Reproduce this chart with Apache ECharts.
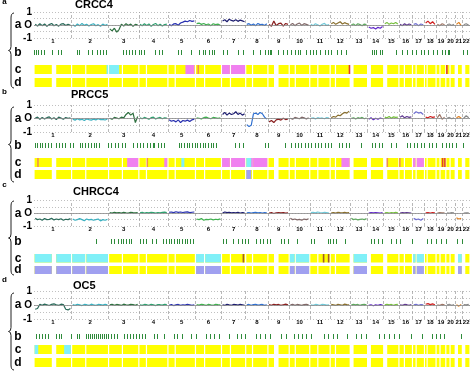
<!DOCTYPE html>
<html><head><meta charset="utf-8">
<script src="https://cdn.jsdelivr.net/npm/echarts@6/dist/echarts.min.js"></script>
<style>html,body{margin:0;padding:0;background:#fff}#c{width:474px;height:372px}</style>
</head><body><div id="c"></div>
<script>
// ---------- genome ----------
const chromNames = ['1','2','3','4','5','6','7','8','9','10','11','12','13','14','15','16','17','18','19','20','21','22'];
const chromLen  = [247,243,199,191,181,171,159,146,140,135,134,132,114,106,100,89,79,76,64,62,47,50];
const gapStart  = [121,93,91,50,48,60,59,45,44,40,53,35,0,0,0,36,24,17,26,28,0,0];
const gapEnd    = [142,93,91,50,48,60,59,45,66,40,53,35,18,18,19,36,24,17,26,28,14,15];
const chromColors = ['#2A6A5A','#3AB0C0','#2E7040','#30A070','#2830B0','#40B050','#1E1E70','#3070D0','#8A2020','#806868','#70C8D8','#8A7030','#60A860','#6028C8','#78C040','#603A90','#7070D0','#D02020','#A07868','#909090','#E08020','#888888'];
const yTickLabels = {'1':'1','0':'O','-1':'-1'};

// ---------- samples ----------
const sampleNames = ['CRCC4','PRCC5','CHRCC4','OC5'];

// log ratio per chromosome (row a)
const ratioCRCC4 = [
 [.05,-.08,.1,-.05,.08,-.1,.03,.12,-.06,.04,-.09,.07,.1,-.04,.06,-.02],
 [.02,-.1,.08,-.05,.12,-.03,.06,-.08,.04,.1,-.06,.03,-.1,.07,-.04,.05],
 [-.3,-.45,-.25,-.55,-.35,.05,-.08,.1,-.04,.07,-.1,.05,.02],
 [.05,-.06,.1,-.03,.08,-.1,.04,.12,-.05,.06,-.08,.03,.07],
 [.03,-.05,.08,.1,-.02,.15,.22,.3,.25,.35,.28,.32],
 [.1,.15,.05,.12,.02,.08,-.05,.1,.03,.07,-.02],
 [.3,.4,.25,.45,.35,.3,.4,.28,.38,.32,.25],
 [.05,.1,-.02,.08,-.05,.12,.03,.06,-.04,.09],
 [.05,-.1,.3,-.05,.1,.15,-.08,.12,.05],
 [.02,.12,-.05,.08,.15,-.03,.1,.05,-.02],
 [.05,-.05,.1,.02,-.08,.06,.12,-.03,.04],
 [.1,.2,.05,.15,.25,.08,.18,.1,.05],
 [.02,.08,-.05,.1,.03,-.06,.07,.04],
 [-.15,-.25,-.2,-.3,-.18,-.25,-.12],
 [.1,.2,.05,.15,.1,.2,.08],
 [.05,-.05,.1,-.02,.08,.02],
 [.05,.1,-.05,.08,.02],
 [.15,.3,.1,.25,.05],
 [.05,-.05,.1,.02],
 [.02,.08,-.03,.05],
 [.05,.2,-.05],
 [.02,.1,-.02]
];
const ratioPRCC5 = [
 [.02,.1,-.05,.08,-.03,.06,.12,-.04,.05,-.08,.1,.03,-.05,.07,.02,.05],
 [-.05,-.12,-.02,-.1,-.06,-.15,-.03,-.08,-.12,-.05,-.1,-.02,-.09,-.06,-.11,-.04],
 [.02,-.05,.08,.03,-.02,.1,.05,.3,.45,.25,.4,-.3,.15],
 [.05,-.02,.08,.02,-.05,.06,.1,-.03,.04,.08,-.02,.05,.03],
 [-.1,-.2,-.15,-.25,-.1,-.3,-.15,-.2,-.12,-.22,-.1,-.05],
 [.05,.02,-.03,.06,.1,.03,-.02,.08,.05,.02,.04],
 [.3,.45,.25,.4,.3,.35,.5,.3,.4,.25,.35],
 [-.45,-.6,-.5,.35,.4,.3,.45,.35,.1,-.05],
 [-.25,-.15,-.3,-.1,-.05,-.12,.02,-.08,-.03],
 [.02,-.05,.08,.03,-.02,.1,.05,-.04,.06],
 [.02,.05,-.03,.06,.01,.04,-.02,.07,.03],
 [.05,.15,.1,.25,.2,.35,.45,.4,.55],
 [.02,.05,-.03,.06,.01,.08,-.02,.04],
 [-.05,.05,-.1,.02,-.06,.04,-.02],
 [.1,.05,.15,.02,.12,.08,.1],
 [.1,.2,.05,.15,.08,.12],
 [.35,.5,.4,.45,.3],
 [.1,.05,.15,.08,.12],
 [.05,.3,-.05,.1],
 [.02,.08,-.02,.05],
 [.05,.15,.02],
 [.02,.2,.05]
];
const ratioCHRCC4 = [
 [-.4,-.5,-.45,-.55,-.42,-.5,-.48,-.4,-.52,-.45,-.5,-.43,-.55,-.47,-.5,-.42],
 [-.45,-.55,-.5,-.42,-.5,-.58,-.45,-.52,-.48,-.55,-.5,-.45,-.6,-.5,-.55,-.48],
 [.05,.02,.08,.03,.06,.01,.07,.04,.02,.08,.05,.03,.06],
 [.04,.07,.02,.06,.03,.08,.05,.02,.06,.04,.07,.09,.05],
 [.08,.1,.05,.12,.07,.1,.06,.09,.11,.05,.08,.1],
 [-.45,-.5,-.42,-.55,-.48,-.5,-.45,-.52,-.47,-.5,-.44],
 [.02,.1,.05,.08,.03,.06,.04,.07,.02,.05,.03],
 [.03,.06,.02,.05,.08,.04,.06,.02,.05,.03],
 [.02,.05,-.02,.04,.06,.03,.05,.01,.04],
 [-.4,-.5,-.45,-.52,-.48,-.55,-.45,-.5,-.43],
 [.05,.08,.03,.1,.06,.04,.07,.05,.02],
 [.03,.06,.02,.08,.05,.04,.07,.03,.05],
 [-.4,-.5,-.45,-.52,-.48,-.45,-.5,-.42],
 [.02,.05,.03,.06,.04,.02,.05],
 [.03,.06,.02,.05,.04,.07,.03],
 [.02,.05,.03,.06,.04,.02],
 [-.4,-.5,-.45,-.55,-.42],
 [.03,.05,.02,.06,.04],
 [.02,.05,.03,.04],
 [.03,.02,.05,.04],
 [-.35,-.45,-.4],
 [.02,.04,.03]
];
const ratioOC5 = [
 [-.3,-.25,.05,-.02,.06,.02,-.04,.05,.08,.02,-.03,.06,.03,-.3,-.35,-.25],
 [.03,-.02,.05,.01,-.04,.04,.02,-.03,.06,.01,-.02,.04,.03,-.01,.05,.02],
 [.02,.05,-.02,.04,.01,-.03,.06,.02,-.01,.04,.03,-.02,.05],
 [.01,-.03,.04,.02,-.02,.05,.01,-.04,.03,.02,-.01,.04,.02],
 [-.02,.03,-.04,.01,.04,-.03,.02,-.01,.05,.01,-.03,.02],
 [.03,-.01,.04,.02,-.03,.05,.01,-.02,.04,.02,.01],
 [.02,-.03,.05,.01,-.02,.04,.03,-.01,.05,.02,-.02],
 [.01,.04,-.02,.03,.05,-.01,.02,.04,-.03,.02],
 [.03,-.02,.05,.01,.04,-.03,.02,.06,.01],
 [.02,.05,-.02,.04,.01,-.03,.03,.05,.01],
 [.01,-.03,.04,.02,-.02,.05,.03,-.01,.02],
 [.04,.01,-.03,.05,.02,-.02,.06,.03,.01],
 [.02,.05,.01,.04,-.02,.03,.05,.02],
 [-.03,.02,-.05,.01,-.02,.03,-.01],
 [.02,.05,.01,.04,-.02,.03,.05],
 [.01,-.03,.04,.02,-.02,.03],
 [.02,.05,-.02,.03,.01],
 [.05,.1,.03,.08,.02],
 [.02,-.02,.04,.01],
 [.01,.04,-.02,.03],
 [.02,-.08,.04],
 [.03,.01,.05]
];

// row b: marked positions (cumulative Mb)
const marksCRCC4 = [3,11,28,48,66,117,160,178,285,296,358,380,417,435,454,476,582,604,626,647,665,687,705,724,797,819,841,944,966,1032,1087,1108,1126,1153,1170,1186,1240,1266,1339,1372,1442,1482,1515,1537,1548,1559,1605,1635,1662,1691,1712,1734,1750,1785,1811,1833,1855,1877,1910,1932,1954,1991,2020,2053,2218,2233,2250,2272,2290,2382,2415,2448,2481,2509,2540,2562,2590,2619,2646,2678,2700,2722,2729,2821,2843];
const marksPRCC5 = [7,22,38,55,72,90,110,147,165,186,204,235,257,301,318,336,354,373,391,410,428,487,509,531,553,575,597,652,674,696,718,740,762,784,790,812,834,856,950,968,986,1003,1021,1039,1056,1074,1091,1108,1126,1144,1161,1179,1197,1324,1346,1372,1517,1535,1647,1691,1712,1734,1756,1778,1800,1822,1844,1866,1888,1910,1932,1954,2004,2027,2048,2070,2152,2221,2244,2266,2287,2343,2378,2452,2474,2496,2518,2540,2562,2595,2617,2639,2683,2705,2727,2748,2771,2821];
const marksCHRCC4 = [406,505,527,549,571,586,604,621,639,696,718,736,775,802,850,867,884,902,920,937,955,973,990,1008,1025,1043,1245,1263,1306,1339,1365,1388,1409,1460,1482,1508,1530,1548,1622,1644,1666,1728,1820,1842,1930,1947,1965,1982,2046,2215,2233,2259,2287,2347,2376,2404,2485,2580,2606,2639,2672,2705,2781,2814];
const marksOC5 = [13,33,53,72,92,145,165,178,244,283,296,342,356,369,382,395,408,421,435,448,461,474,487,507,527,547,593,613,632,652,672,692,711,731,790,810,856,922,942,975,1034,1067,1133,1159,1186,1218,1284,1337,1363,1389,1462,1488,1521,1554,1620,1653,1706,1732,1758,1785,1818,1903,1929,1962,1989,2055,2114,2147,2180,2266,2299,2331,2364,2397,2476,2549,2615,2641,2667,2694,2806];

// rows c and d: altered segments [startMb, endMb, state]; everything else is normal (yellow)
const rowC_CRCC4 = [[478,560,'loss'],[995,1054,'gain'],[1077,1082,'ampO'],[1232,1391,'gain'],[2072,2076,'ampR'],[2711,2715,'ampR']];
const rowD_CRCC4 = [];
const rowC_PRCC5 = [[24,28,'ampO'],[612,685,'gain'],[742,746,'ampO'],[856,876,'gain'],[968,988,'loss'],[1232,1391,'gain'],[1391,1434,'loss'],[1434,1537,'gain'],[2020,2078,'gain'],[2318,2322,'ampO'],[2402,2406,'ampO'],[2487,2566,'gain'],[2683,2687,'ampR'],[2698,2702,'ampR']];
const rowD_PRCC5 = [[1391,1427,'loh']];
const rowC_CHRCC4 = [[0,490,'loss'],[1061,1232,'loss'],[1374,1378,'ampD'],[1677,1812,'loss'],[1901,1905,'ampD'],[1934,1938,'ampD'],[2078,2192,'loss'],[2487,2566,'loss'],[2768,2815,'loss']];
const rowD_CHRCC4 = [[0,490,'loh'],[1061,1232,'loh'],[1677,1812,'loh'],[2078,2192,'loh'],[2487,2566,'loh'],[2768,2815,'loh']];
const rowC_OC5 = [[0,28,'loss'],[198,242,'loss']];
const rowD_OC5 = [];

// ---------- styling / layout ----------
const stateKeys = ['base','loss','gain','loh','ampR','ampO','ampD'];
const stateColors = ['#FFFF00','#80F0F8','#F080F0','#A0A0F0','#E04030','#F09050','#A05A28'];
const markColor = '#2E8B3A';
const FONT = 'Liberation Sans, Arial, sans-serif';
const panels = [
 {name:sampleNames[0], ratio:ratioCRCC4, marks:marksCRCC4, c:rowC_CRCC4, d:rowD_CRCC4, letter:'a',
  A:[12,26], B:[50,5], C:[65,9], D:[78,9], titleY:5, titleX:75, letterY:2, brace:[13,88]},
 {name:sampleNames[1], ratio:ratioPRCC5, marks:marksPRCC5, c:rowC_PRCC5, d:rowD_PRCC5, letter:'b',
  A:[105,27], B:[143,5], C:[158,9], D:[170,9], titleY:95, titleX:71, letterY:92, brace:[107,182]},
 {name:sampleNames[2], ratio:ratioCHRCC4, marks:marksCHRCC4, c:rowC_CHRCC4, d:rowD_CHRCC4, letter:'c',
  A:[200.5,25.5], B:[239,5], C:[254,8.5], D:[266,8], titleY:192, titleX:73, letterY:185, brace:[201,275]},
 {name:sampleNames[3], ratio:ratioOC5, marks:marksOC5, c:rowC_OC5, d:rowD_OC5, letter:'d',
  A:[291,28], B:[334,5], C:[345,9], D:[358,9], titleY:286, titleX:73, letterY:280, brace:[293,370]}
];

// ---------- derived genome coordinates ----------
const chromStart = [];
chromLen.reduce((acc, l, i) => { chromStart[i] = acc; return acc + l; }, 0);
const genomeLen = chromLen.reduce((a, b) => a + b, 0);
const chromCenters = chromLen.map((l, i) => chromStart[i] + l / 2);
const boundaries = chromStart.slice(1);
const arms = [];
chromLen.forEach((len, i) => {
  const st = chromStart[i];
  if (gapStart[i] > 0) arms.push([st, st + gapStart[i]]);
  arms.push([st + gapEnd[i], st + len]);
});

function buildBar(segs) {
  const items = arms.map(a => [a[0], a[1], 0, a[0], a[1]]);
  segs.forEach(sg => {
    arms.forEach(a => {
      const s = Math.max(sg[0], a[0]), e = Math.min(sg[1], a[1]);
      if (e > s) items.push([s, e, stateKeys.indexOf(sg[2]), a[0], a[1]]);
    });
  });
  return items;
}
function renderBar(params, api) {
  const s = api.value(0), e = api.value(1), st = api.value(2), as = api.value(3), ae = api.value(4);
  const top = api.coord([s, 1])[1], bot = api.coord([s, 0])[1];
  let x0 = api.coord([s, 0])[0], x1 = api.coord([e, 0])[0];
  const l = api.coord([as, 0])[0] + 0.6, r = api.coord([ae, 0])[0] - 0.6;
  x0 = Math.max(x0, l); x1 = Math.min(x1, r);
  if (x1 - x0 < 1.5) { const m = (x0 + x1) / 2; x0 = m - 0.8; x1 = m + 0.8; }
  return {type:'rect', shape:{x:x0, y:top, width:x1 - x0, height:bot - top}, style:{fill:stateColors[st]}};
}
function renderMark(params, api) {
  const p0 = api.coord([api.value(0), 1]), p1 = api.coord([api.value(0), 0]);
  const x = Math.round(p0[0]) + 0.5;
  return {type:'line', shape:{x1:x, y1:p0[1], x2:x, y2:p1[1]}, style:{stroke:markColor, lineWidth:1}};
}

const grids = [], xAxes = [], yAxes = [], series = [], graphics = [];
const LEFT = 34, WIDTH = 436;
panels.forEach((p, pi) => {
  const rows = [p.A, p.B, p.C, p.D];
  rows.forEach((r, ri) => {
    const gi = grids.length;
    grids.push({left:LEFT, width:WIDTH, top:r[0], height:r[1], containLabel:false, outerBoundsMode:'none'});
    const isA = ri === 0;
    xAxes.push({
      type:'value', gridIndex:gi, min:0, max:genomeLen, show:isA,
      axisLine:{show:false}, axisTick:{show:false}, splitLine:{show:false},
      axisLabel:{show:isA, customValues:chromCenters, margin:3, fontSize:6, fontWeight:'bold', color:'#000', fontFamily:FONT,
        verticalAlign:'middle',
        formatter: v => { const k = chromCenters.findIndex(c => Math.abs(c - v) < 0.01); return k >= 0 ? chromNames[k] : ''; }}
    });
    if (isA) {
      yAxes.push({
        type:'value', gridIndex:gi, min:-1, max:1, interval:0.5,
        axisLine:{show:false}, axisTick:{show:false},
        splitLine:{show:true, lineStyle:{color:'#b0b0b0', type:[1,2], width:0.8}},
        axisLabel:{margin:2, fontSize:10, fontWeight:'bold', color:'#000', fontFamily:FONT,
          formatter: v => yTickLabels[String(v)] || ''}
      });
    } else {
      yAxes.push({type:'value', gridIndex:gi, min:0, max:1, show:false});
    }
  });
  const gA = pi * 4;
  // row a: ratio traces per chromosome
  p.ratio.forEach((vals, ci) => {
    const n = vals.length;
    const s = {
      type:'line', xAxisIndex:gA, yAxisIndex:gA, showSymbol:false, symbol:'none', silent:true,
      lineStyle:{color:chromColors[ci], width:1.2}, z:3,
      data: vals.map((v, k) => [chromStart[ci] + (k + 0.5) * chromLen[ci] / n, v])
    };
    if (ci === 0) {
      s.markLine = {
        silent:true, symbol:'none', label:{show:false}, animation:false,
        data: boundaries.map(b => ({xAxis:b, lineStyle:{color:'#9a9a9a', type:[3,2], width:0.7}}))
          .concat([{yAxis:0, lineStyle:{color:'#8a8a8a', type:'solid', width:0.8}}])
      };
    }
    series.push(s);
  });
  // row b: marks
  series.push({type:'custom', xAxisIndex:gA + 1, yAxisIndex:gA + 1, renderItem:renderMark, silent:true,
    data:p.marks.map(m => [m])});
  // rows c, d
  series.push({type:'custom', xAxisIndex:gA + 2, yAxisIndex:gA + 2, renderItem:renderBar, silent:true,
    data:buildBar(p.c), encode:{x:[0,1]}});
  series.push({type:'custom', xAxisIndex:gA + 3, yAxisIndex:gA + 3, renderItem:renderBar, silent:true,
    data:buildBar(p.d), encode:{x:[0,1]}});

  // texts
  graphics.push({type:'text', x:p.titleX, y:p.titleY, style:{text:p.name, font:'bold 11px ' + FONT, fill:'#000', verticalAlign:'middle'}});
  graphics.push({type:'text', x:4.5, y:p.letterY, style:{text:p.letter, font:'bold 8px ' + FONT, fill:'#000', align:'center', verticalAlign:'middle'}});
  ['a','b','c','d'].forEach((t, ri) => {
    const r = rows[ri];
    graphics.push({type:'text', x:18, y:r[0] + r[1] / 2, style:{text:t, font:'bold 12px ' + FONT, fill:'#000', align:'center', verticalAlign:'middle'}});
  });
  // brace
  const y0 = p.brace[0], y1 = p.brace[1], ym = (y0 + y1) / 2, x = 11;
  const bs = {stroke:'#222', lineWidth:1, fill:null};
  graphics.push({type:'bezierCurve', shape:{x1:x+3, y1:y0, cpx1:x, cpy1:y0, x2:x, y2:y0+5}, style:bs});
  graphics.push({type:'line', shape:{x1:x, y1:y0+5, x2:x, y2:ym-4}, style:bs});
  graphics.push({type:'bezierCurve', shape:{x1:x, y1:ym-4, cpx1:x, cpy1:ym, x2:x-2.5, y2:ym}, style:bs});
  graphics.push({type:'bezierCurve', shape:{x1:x-2.5, y1:ym, cpx1:x, cpy1:ym, x2:x, y2:ym+4}, style:bs});
  graphics.push({type:'line', shape:{x1:x, y1:ym+4, x2:x, y2:y1-5}, style:bs});
  graphics.push({type:'bezierCurve', shape:{x1:x, y1:y1-5, cpx1:x, cpy1:y1, x2:x+3, y2:y1}, style:bs});
});

const chart = echarts.init(document.getElementById('c'), null, {renderer:'canvas'});
chart.setOption({
  animation:false, backgroundColor:'#fff',
  textStyle:{fontFamily:FONT},
  grid:grids, xAxis:xAxes, yAxis:yAxes, series:series, graphic:graphics
});
</script></body></html>
